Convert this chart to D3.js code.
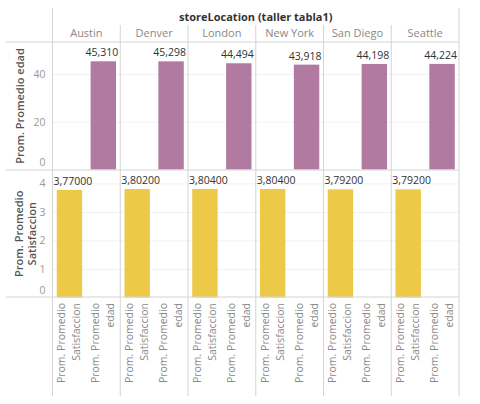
<!DOCTYPE html>
<html><head><meta charset="utf-8">
<script src="https://cdn.jsdelivr.net/npm/d3@7"></script>
<style>
html,body{margin:0;padding:0;background:#fff;}
svg{display:block;font-family:"Open Sans","Noto Sans",sans-serif;}
</style></head>
<body><svg id="c" width="480" height="404"></svg>
<script>
const locations = ["Austin","Denver","London","New York","San Diego","Seattle"];
const measures = ["Prom. Promedio Satisfaccion","Prom. Promedio edad"];
const edadValues = [45.310, 45.298, 44.494, 43.918, 44.198, 44.224];
const satisfValues = [3.770, 3.802, 3.804, 3.804, 3.792, 3.792];
const edadTicks = [0, 20, 40];
const satisfTicks = [0, 1, 2, 3, 4];
const headerTitle = "storeLocation (taller tabla1)";

const svg = d3.select("#c");
const L = 52.5, R = 459, lineL = 6;
const topY0 = 42, midY = 170, botY = 297.5, bottomEnd = 396;
const locale = d3.formatLocale({decimal:",", thousands:".", grouping:[3], currency:["",""]});
const fEdad = locale.format(".3f"), fSat = locale.format(".5f");

const x = d3.scaleBand().domain(locations).range([L, R]);
const xm = d3.scaleBand().domain(measures).range([0, x.bandwidth()]).paddingInner(0.25).paddingOuter(0.125);
const yTop = d3.scaleLinear().domain([0, 53.4]).range([169.5, topY0]);
const yBot = d3.scaleLinear().domain([0, 4.47]).range([botY, midY]);

// gridlines
function grid(scale, ticks){
  svg.append("g").attr("transform",`translate(${L},0)`)
    .call(d3.axisLeft(scale).tickValues(ticks.filter(t=>t>0)).tickSize(-(R-L)).tickFormat(""))
    .call(g=>g.select(".domain").remove())
    .call(g=>g.selectAll("line").attr("stroke","#f1f1f1"));
}
grid(yTop, edadTicks); grid(yBot, satisfTicks);

// bars
const dataTop = locations.map((l,i)=>({loc:l, v:edadValues[i]}));
const dataBot = locations.map((l,i)=>({loc:l, v:satisfValues[i]}));
svg.append("g").selectAll("rect").data(dataTop).join("rect")
  .attr("x", d=>x(d.loc)+xm(measures[1])).attr("width", xm.bandwidth())
  .attr("y", d=>yTop(d.v)).attr("height", d=>yTop(0)-yTop(d.v)).attr("fill","#b07aa1");
svg.append("g").selectAll("rect").data(dataBot).join("rect")
  .attr("x", d=>x(d.loc)+xm(measures[0])).attr("width", xm.bandwidth())
  .attr("y", d=>yBot(d.v)).attr("height", d=>yBot(0)-yBot(d.v)).attr("fill","#edc948");

// value labels, centred over bar but kept inside the cell
function labels(data, meas, yS, fmt){
  const g = svg.append("g").attr("font-size","10.5px").attr("fill","#333");
  g.selectAll("text").data(data).join("text")
    .attr("y", d=>yS(d.v)-5).text(d=>fmt(d.v))
    .each(function(d){
      const w = this.getComputedTextLength();
      const cx = x(d.loc)+xm(meas)+xm.bandwidth()/2;
      let s = cx - w/2;
      const lo = x(d.loc)+1, hi = x(d.loc)+x.bandwidth()-2-w;
      s = Math.max(lo, Math.min(hi, s));
      d3.select(this).attr("x", s);
    });
}
labels(dataTop, measures[1], yTop, fEdad);
labels(dataBot, measures[0], yBot, fSat);

// y axes tick labels
function yAxis(scale, ticks){
  const g = svg.append("g").attr("transform",`translate(${L},0)`)
    .call(d3.axisLeft(scale).tickValues(ticks).tickSize(0).tickPadding(7).tickFormat(d3.format("d")))
    .call(g=>g.select(".domain").remove());
  g.selectAll("text").attr("font-size","10.5px").attr("fill","#999").attr("font-family","Open Sans")
    .filter(d=>d===0).attr("dy","-0.35em");
}
yAxis(yTop, edadTicks); yAxis(yBot, satisfTicks);

// structure lines
const lc = "#d4d4d4";
[topY0, midY, botY-0.5].forEach(yv=>svg.append("line").attr("x1",lineL).attr("x2",R).attr("y1",yv).attr("y2",yv).attr("stroke",lc));
svg.append("line").attr("x1",L).attr("x2",L).attr("y1",8).attr("y2",bottomEnd).attr("stroke",lc);
svg.append("line").attr("x1",R).attr("x2",R).attr("y1",8).attr("y2",bottomEnd).attr("stroke",lc);
locations.slice(1).forEach(l=>svg.append("line").attr("x1",x(l)).attr("x2",x(l)).attr("y1",25).attr("y2",bottomEnd).attr("stroke",lc));

// header
svg.append("text").attr("x",(L+R)/2).attr("y",21).attr("text-anchor","middle")
  .attr("font-size","11px").attr("font-weight","bold").attr("fill","#333").text(headerTitle);
svg.append("g").selectAll("text").data(locations).join("text")
  .attr("x", d=>x(d)+x.bandwidth()/2).attr("y",37).attr("text-anchor","middle")
  .attr("font-size","11px").attr("fill","#888").text(d=>d);

// axis titles
svg.append("text").attr("transform",`translate(24,${(topY0+midY)/2}) rotate(-90)`).attr("text-anchor","middle")
  .attr("font-size","11px").attr("font-weight","600").attr("fill","#555").text("Prom. Promedio edad");
svg.append("text").attr("transform",`translate(23,${(midY+botY)/2}) rotate(-90)`).attr("text-anchor","middle")
  .attr("font-size","11px").attr("font-weight","600").attr("fill","#555")
  .selectAll("tspan").data(["Prom. Promedio","Satisfaccion"]).join("tspan")
  .attr("x",0).attr("y",(d,i)=>i*12.7).text(d=>d);

// bottom rotated measure labels
const mLines = [["Prom. Promedio","Satisfaccion"],["Prom. Promedio","edad"]];
locations.forEach(l=>{
  measures.forEach((m,mi)=>{
    const cx = x(l)+xm(m)+xm.bandwidth()/2;
    svg.append("text").attr("transform",`translate(${cx},303) rotate(-90)`).attr("text-anchor","end")
      .attr("font-size","10.5px").attr("fill","#888")
      .selectAll("tspan").data(mLines[mi]).join("tspan")
      .attr("x",0).attr("y",(d,i)=>-4+i*15).text(d=>d);
  });
});
</script></body></html>
